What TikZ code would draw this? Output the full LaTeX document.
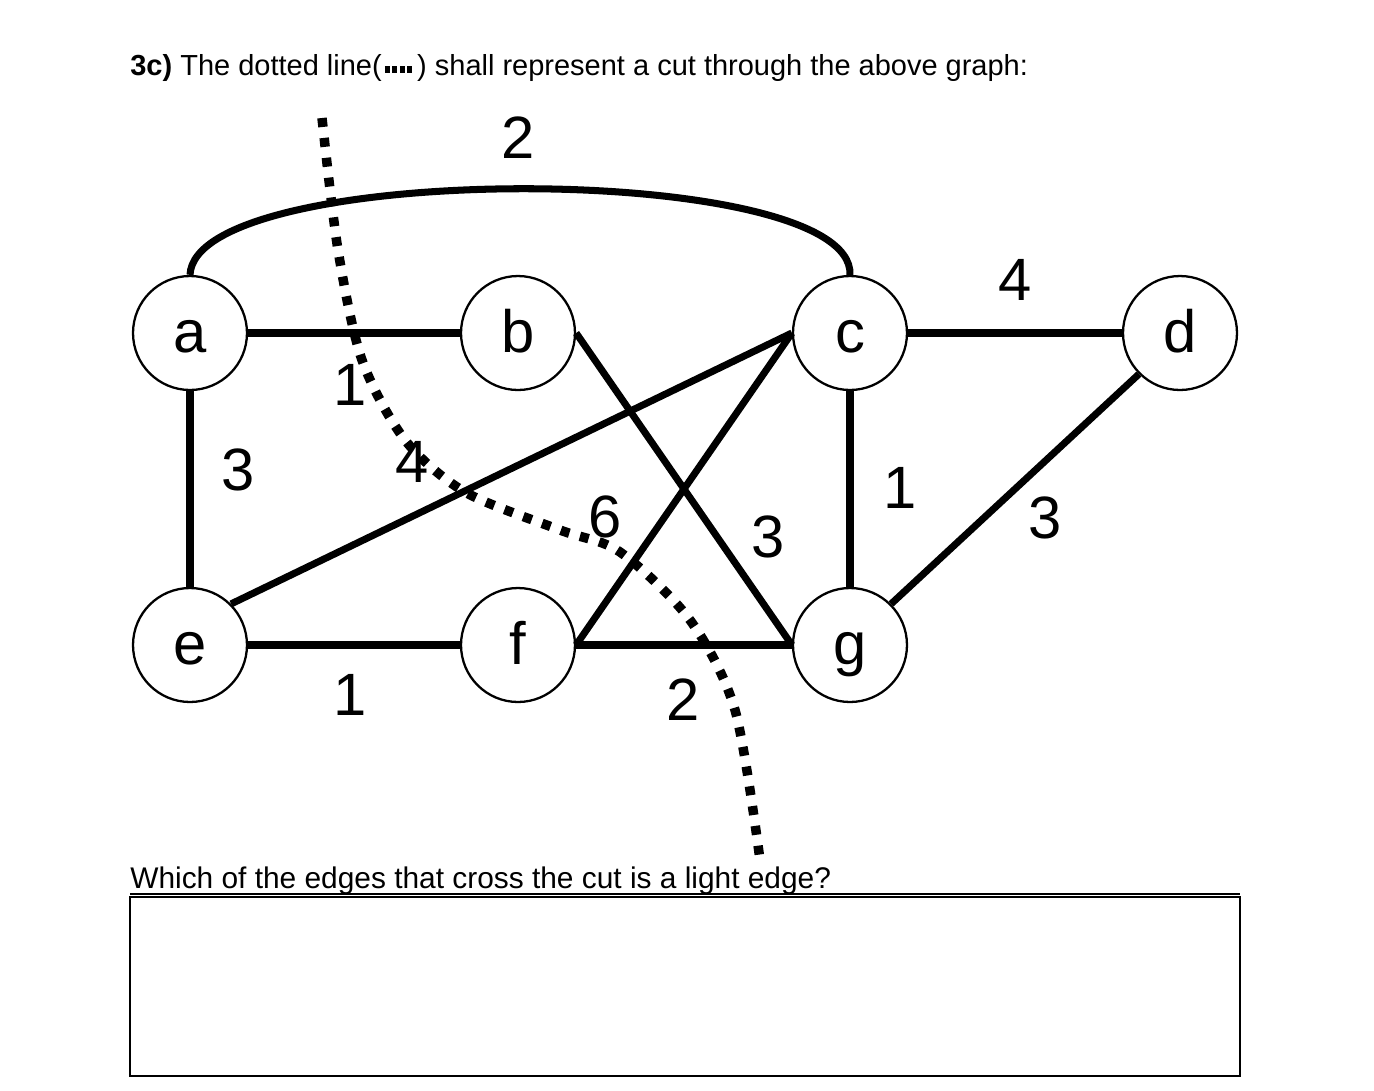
\documentclass[tikz,border=0pt]{standalone}
\usepackage{fontspec}
\setmainfont{Liberation Sans}
\begin{document}
\begin{tikzpicture}[x=0.02cm,y=-0.02cm,
  vert/.style={circle,draw,line width=1.3pt,minimum size=2.28cm,inner sep=0pt,text height=0.82cm,text depth=0.06cm,font=\fontsize{34}{36}\selectfont},
  edge/.style={line width=4pt},
  wlab/.style={font=\fontsize{34}{36}\selectfont,inner sep=0pt},
  cutline/.style={line width=0.19cm,dash pattern=on 0.18cm off 0.22cm}]
\useasboundingbox (0,0) rectangle (1374,1090);
\node[vert] (a) at (190,333) {a};
\node[vert] (b) at (518,333) {b};
\node[vert] (c) at (850,333) {c};
\node[vert] (d) at (1180,333) {d};
\node[vert] (e) at (190,645) {e};
\node[vert] (f) at (518,645) {f};
\node[vert] (g) at (850,645) {g};
\draw[edge] (a.north) .. controls (195,160) and (855,160) .. (c.north);
\draw[edge] (a) -- (b);
\draw[edge] (a) -- (e);
\draw[edge] (b.east) -- (g.west);
\draw[edge] (c.west) -- (e.north east);
\draw[edge] (c.west) -- (f.east);
\draw[edge] (c) -- (d);
\draw[edge] (c) -- (g);
\draw[edge] (d.south west) -- (g.north east);
\draw[edge] (e) -- (f);
\draw[edge] (f.east) -- (g.west);
\node[wlab] (w1) at (518,138) {2};
\node[wlab] (w2) at (350,385) {1};
\node[wlab] (w3) at (238,470) {3};
\node[wlab] (w4) at (412,462) {4};
\node[wlab] (w5) at (605,517) {6};
\node[wlab] (w6) at (768,537) {3};
\node[wlab] (w7) at (900,488) {1};
\node[wlab] (w8) at (1015,280) {4};
\node[wlab] (w9) at (1045,518) {3};
\node[wlab] (w10) at (350,695) {1};
\node[wlab] (w11) at (683,700) {2};
\draw[cutline] plot[smooth] coordinates {(322,118) (338,250) (362,360) (405,440) (465,492) (560,530) (620,552) (690,620) (735,710) (760,860)};
\node[anchor=west,inner sep=0pt,font=\fontsize{16.5}{20}\selectfont] (title) at (130,68) {\textbf{3c)} The dotted line(\tikz[baseline=-0.1cm]\draw[line width=0.13cm,dash pattern=on 0.1cm off 0.05cm] (0cm,0.02cm)--(0.58cm,0.02cm);) shall represent a cut through the above graph:};
\node[anchor=base west,inner sep=0pt,font=\fontsize{17}{20}\selectfont] (q) at (130,888) {\underline{Which of the edges that cross the cut is a light edge?}};
\coordinate (u1) at (130,894);
\coordinate (u2) at (1240,894);
\draw[line width=0.6pt] (u1) -- (u2);
\coordinate (b1) at (130,897);
\coordinate (b2) at (1240,1076);
\draw[line width=0.8pt] (b1) rectangle (b2);
\end{tikzpicture}
\end{document}
